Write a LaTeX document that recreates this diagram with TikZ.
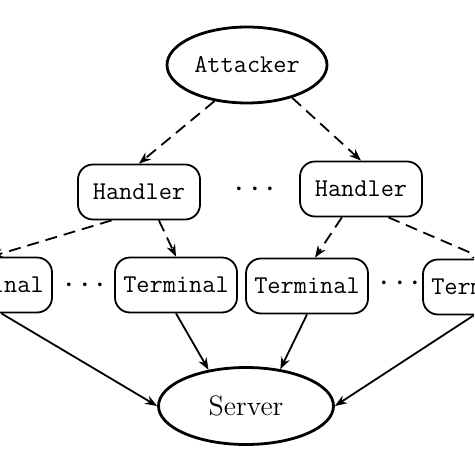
\documentclass[tikz,border=0pt]{standalone}
\usetikzlibrary{arrows.meta,shapes.geometric}
\begin{document}
\begin{tikzpicture}[x=0.5pt,y=-0.5pt,
    txt/.style={font=\fontsize{12.8}{15}\selectfont\ttfamily},
    oval/.style={ellipse,draw,line width=1.4pt,inner sep=0pt,txt},
    box/.style={rectangle,draw,rounded corners=7.5pt,line width=0.9pt,
        minimum width=61pt,minimum height=27.5pt,inner sep=0pt,txt},
    dots/.style={font=\fontsize{17}{19}\selectfont,inner sep=0pt},
    dashedarrow/.style={-{Stealth[length=6pt,width=4.5pt]},line width=0.9pt,
        dash pattern=on 6pt off 3.5pt},
    solidarrow/.style={-{Stealth[length=6pt,width=4.5pt]},line width=0.9pt}]
    \useasboundingbox (0,0) rectangle (474,474);
    \clip (0,0) rectangle (474,474);
    \node[oval,minimum width=80pt,minimum height=38pt] (att) at (247,65) {Attacker};
    \node[box] (hl) at (139,192) {Handler};
    \node[box] (hr) at (361,189) {Handler};
    \node[dots] (dh) at (255,190) {$\cdots$};
    \node[box] (t1) at (-9,285) {Terminal};
    \node[box] (t2) at (176,285) {Terminal};
    \node[box] (t3) at (307,286) {Terminal};
    \node[box] (t4) at (484,287) {Terminal};
    \node[dots] (dl) at (85,286) {$\cdots$};
    \node[dots] (dr) at (400,284) {$\cdots$};
    \node[oval,minimum width=87.5pt,minimum height=38.5pt,
        font=\fontsize{14}{16}\selectfont\rmfamily] (srv) at (246,406) {Server};
    \draw[dashedarrow] (att.228) -- (hl.north);
    \draw[dashedarrow] (att.324) -- (hr.north);
    \draw[dashedarrow] (hl.226) -- (t1.north);
    \draw[dashedarrow] (hl.305) -- (t2.north);
    \draw[dashedarrow] (hr.236) -- ([xshift=4pt]t3.north);
    \draw[dashedarrow] (hr.314) -- (t4.north);
    \draw[solidarrow] (t1.290) -- (srv.west);
    \draw[solidarrow] (t2.south) -- (srv.136);
    \draw[solidarrow] (t3.south) -- (srv.47);
    \draw[solidarrow] (t4.250) -- (srv.east);
\end{tikzpicture}
\end{document}
